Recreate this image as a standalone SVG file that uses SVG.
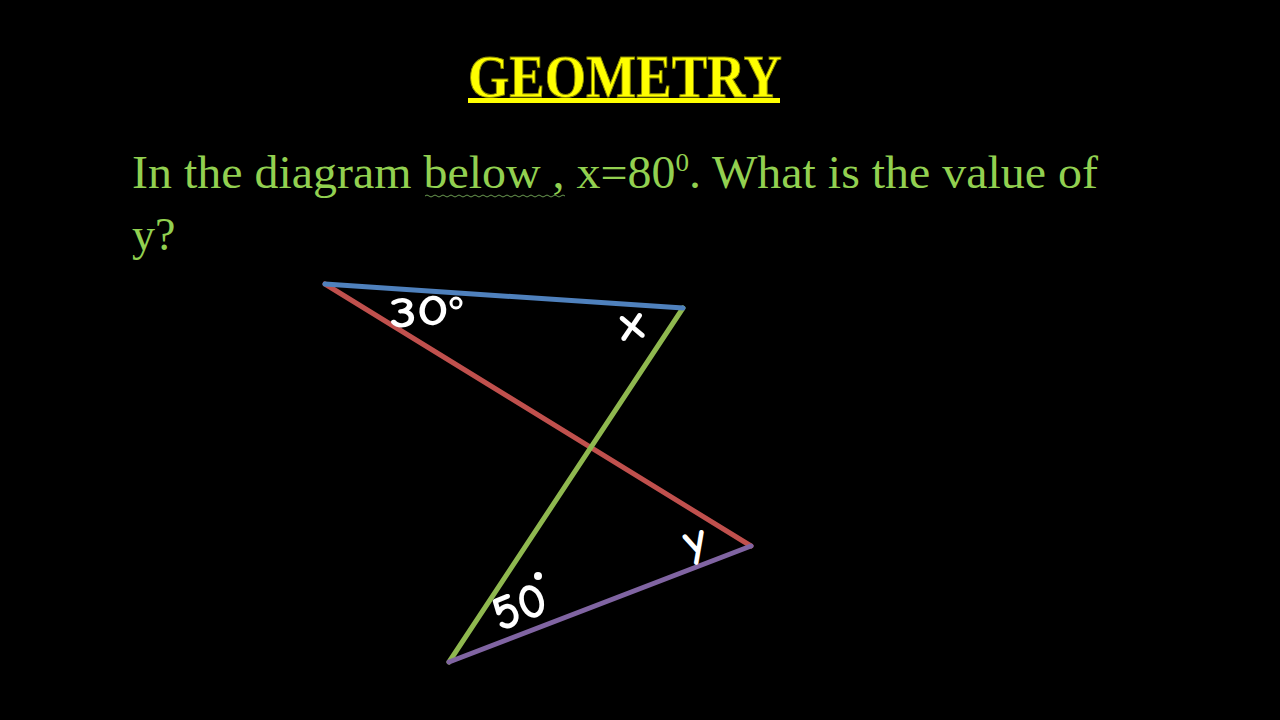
<svg xmlns="http://www.w3.org/2000/svg" width="1280" height="720" viewBox="0 0 1280 720">
<style>
.q{font-family:"Liberation Serif","Times New Roman",serif;fill:#92d050;font-size:46px}
.hand{font-family:"Comic Neue","Noto Sans","DejaVu Sans",sans-serif;fill:#ffffff;font-weight:bold}
.seg{stroke-width:5;stroke-linecap:round;fill:none}
</style>
<rect x="0" y="0" width="1280" height="720" fill="#000000"/>
<g id="title">
<text x="468" y="97" font-family="Liberation Serif,serif" font-weight="bold" font-size="62" fill="#ffff00" stroke="#8a8a00" stroke-width="1" textLength="314" lengthAdjust="spacingAndGlyphs">GEOMETRY</text>
<rect x="468" y="98" width="312" height="5" fill="#ffff00"/>
</g>
<g id="question">
<text class="q" x="132" y="188" textLength="966" lengthAdjust="spacingAndGlyphs">In the diagram below , x=80<tspan font-size="26" dy="-17">0</tspan><tspan dy="17">. What is the value of</tspan></text>
<path d="M425,196 q2,-2 4,0 t4,0 t4,0 t4,0 t4,0 t4,0 t4,0 t4,0 t4,0 t4,0 t4,0 t4,0 t4,0 t4,0 t4,0 t4,0 t4,0 t4,0 t4,0 t4,0 t4,0 t4,0 t4,0 t4,0 t4,0 t4,0 t4,0 t4,0 t4,0 t4,0 t4,0 t4,0 t4,0 t4,0 t4,0" stroke="#6a9a50" stroke-width="1" fill="none"/>
<text class="q" x="132" y="250">y?</text>
</g>
<g id="connectors">
<line class="seg" x1="325" y1="284" x2="751" y2="546" stroke="#c0504d"/>
<line class="seg" x1="683" y1="308" x2="449" y2="662" stroke="#8fb84f"/>
<line class="seg" x1="325" y1="284" x2="683" y2="308" stroke="#4f81bd"/>
<line class="seg" x1="449" y1="662" x2="751" y2="546" stroke="#8064a2"/>
</g>
<g id="labels">
<text class="hand" x="390" y="328" font-size="44" textLength="60" lengthAdjust="spacingAndGlyphs" transform="rotate(-4 390 328)">30</text>
<circle cx="456" cy="303" r="5" fill="none" stroke="#fff" stroke-width="3"/>
<text class="hand" x="622" y="341" font-size="50" transform="rotate(-10 622 341)">x</text>
<text class="hand" x="688" y="558" font-size="48" transform="rotate(-15 688 558)">y</text>
<text class="hand" x="500" y="632" font-size="50" transform="rotate(-22 500 632)">50</text>
<circle cx="538" cy="576" r="4" fill="#fff"/>
</g>
</svg>
